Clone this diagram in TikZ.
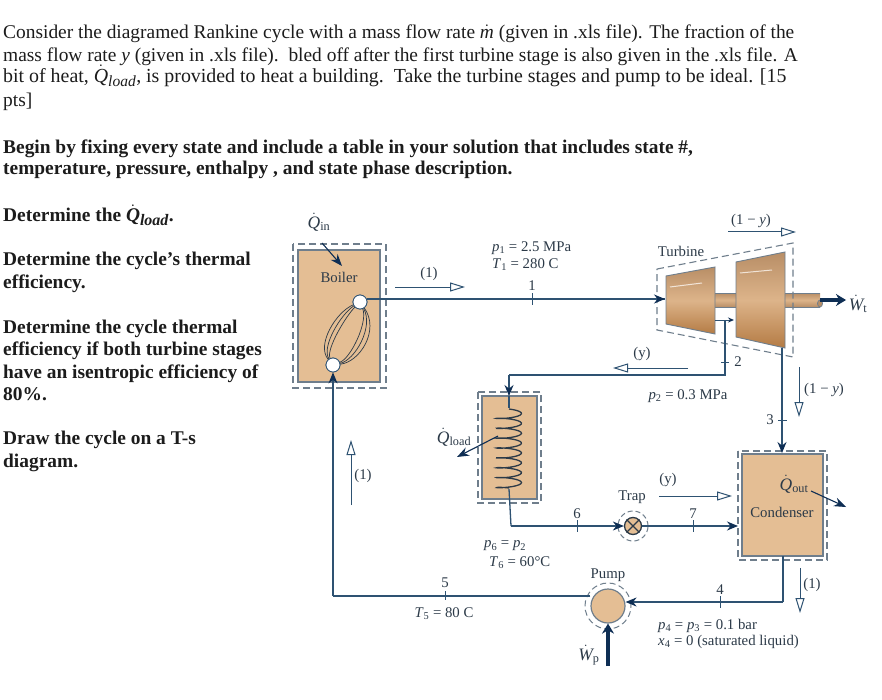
\documentclass[tikz,border=0pt]{standalone}
\usepackage{fontspec}
\setmainfont{Liberation Serif}
\usetikzlibrary{arrows.meta}
\definecolor{pipe}{HTML}{2E5272}
\definecolor{navy}{HTML}{0E2E54}
\definecolor{dashc}{HTML}{6F7E8C}
\definecolor{tanc}{HTML}{E4BE94}
\definecolor{lab}{HTML}{2C3A48}
\definecolor{body}{HTML}{1C1C1C}
\definecolor{B}{HTML}{B88E66}\definecolor{C}{HTML}{DDB48A}\definecolor{D}{HTML}{B47B44}
\newcommand{\Qd}{\dot{\mathit{Q}}}
\newcommand{\Wd}{\dot{\mathit{W}}}
\newcommand{\Qp}{$\dot{\mathit{Q}}_{\hbox{\itshape\fontsize{15.5}{16}\selectfont load}}$}
\newcommand{\Qb}{\dot{\hbox{\bfseries\itshape Q}}_{\hbox{\bfseries\itshape\fontsize{16}{16}\selectfont load}}}
\newcommand{\sbs}[1]{$_{\mathrm{#1}}$}
\tikzset{
 para/.style={anchor=base west,inner sep=0pt,text=body,font=\fontsize{19.42}{22}\selectfont},
 head/.style={anchor=base west,inner sep=0pt,text=body,font=\fontsize{19.4}{22}\selectfont\bfseries},
 lbl/.style={inner sep=0pt,text=lab,font=\fontsize{14.8}{16}\selectfont},
 lbll/.style={lbl,anchor=west},
 qlbl/.style={lbl,font=\fontsize{17.5}{18}\selectfont},
 pipeline/.style={draw=pipe,line width=1.3pt},
 flow/.style={pipeline,-{Stealth[length=11pt,width=9pt,color=navy]}},
 tick/.style={draw=pipe,line width=.7pt},
 box/.style={draw=dashc,line width=1.3pt,fill=tanc},
 dashbox/.style={draw=dashc,line width=1.1pt,dash pattern=on 7pt off 4pt},
 ind/.style={draw=pipe,line width=1pt,-{Triangle[open,fill=white,length=15pt,width=9pt]}},
 heat/.style={draw=navy,line width=1.1pt,-{Stealth[length=12pt,width=9pt]}},
 work/.style={draw=navy,line width=3.4pt,-{Stealth[length=10pt,width=12pt]}},
 stage/.style={draw=dashc,line width=.9pt,top color=B,bottom color=D,middle color=C},
}
\begin{document}
\begin{tikzpicture}[x=1pt,y=-1pt]
\useasboundingbox[fill=white] (0,0) rectangle (882,700);
% ---- text
\node[para] (t1) at (3,39) {Consider the diagramed Rankine cycle with a mass flow rate $\dot{\mathit{m}}$ (given in .xls file). The fraction of the};
\node[para] (t2) at (3,62) {mass flow rate \textit{y} (given in .xls file).\ \ bled off after the first turbine stage is also given in the .xls file. A};
\node[para,font=\fontsize{19.9}{22}\selectfont] (t3) at (3,83) {bit of heat, \Qp, is provided to heat a building.\ \ Take the turbine stages and pump to be ideal. [15};
\node[para] (t4) at (3,106.5) {pts]};
\node[head] (h1) at (3,153.5) {Begin by fixing every state and include a table in your solution that includes state \#,};
\node[head] (h2) at (3,175) {temperature, pressure, enthalpy , and state phase description.};
\node[head] (h3) at (3,222) {Determine the $\Qb$.};
\node[head] (h4) at (3,265.5) {Determine the cycle’s thermal};
\node[head] (h5) at (3,288.5) {efficiency.};
\node[head] (h6) at (3,333) {Determine the cycle thermal};
\node[head] (h7) at (3,355) {efficiency if both turbine stages};
\node[head] (h8) at (3,378) {have an isentropic efficiency of};
\node[head] (h9) at (3,400) {80\%.};
\node[head] (h10) at (3,444) {Draw the cycle on a T-s};
\node[head] (h11) at (3,467) {diagram.};
% ---- boiler
\draw[dashbox] (293,244) rectangle (386,388);
\draw[box] (298,250) rectangle (380,382);
% ---- heater
\draw[dashbox] (478,392) rectangle (541,503);
\draw[box] (482,396) rectangle (537,499);
% ---- condenser
\draw[dashbox] (738,451) rectangle (827,560);
\draw[box] (742,454) rectangle (823,556);
% ---- turbine
\shade[top color=B,bottom color=B,middle color=C] (715,293) rectangle (736,307);
\shade[top color=B,bottom color=B,middle color=C] (785,293) rectangle (820,307);
\draw[draw=dashc,line width=.8pt] (715,293) -- (736,293) (715,307) -- (736,307) (785,293) -- (820,293) (785,307) -- (820,307);
\draw[draw=dashc,line width=.8pt,fill=B] (820,303.5) ellipse (2.5 and 3.5);
\draw[stage] (666,276) -- (715,267) -- (715,334) -- (666,324) -- cycle;
\draw[stage] (736,262) -- (785,252) -- (785,348) -- (736,337) -- cycle;
\draw[white!85!tanc,line width=1pt,opacity=.8] (670,287) -- (702,283);
\draw[white!85!tanc,line width=1pt,opacity=.8] (740,273) -- (772,270);
\draw[dashbox] (657,269) -- (793,243) -- (793,357) -- (657,330) -- cycle;
% ---- named points
\node[circle,draw=pipe,line width=.8pt,fill=white,minimum size=14pt,inner sep=0pt] (drum) at (360,302) {};
\node[circle,draw=pipe,line width=.8pt,fill=white,minimum size=14pt,inner sep=0pt] (mud) at (333,365) {};
\coordinate (tin) at (665,299);
\coordinate (tmid) at (600,299);
\coordinate (bleedA) at (715,320);
\coordinate (bleedB) at (734,320);
\coordinate (bleedJ) at (725,320);
\coordinate (c1) at (725,375);
\coordinate (c2) at (509,375);
\coordinate (coilin) at (509,396);
\coordinate (coilout) at (509,489);
\coordinate (c3) at (511,526);
\coordinate (t2out) at (782,348);
\coordinate (condtop) at (782,453);
\coordinate (condbot) at (783,556);
\coordinate (c4) at (783,602);
\coordinate (c5) at (333,596);
% ---- boiler tubes
\begin{scope}[line width=.7pt]
\draw[draw=lab] (mud) .. controls (316,345) and (336,312) .. (drum);
\draw[draw=lab] (mud) .. controls (321,347) and (341,314) .. (drum);
\draw[draw=lab] (mud) .. controls (326,349) and (346,316) .. (drum);
\draw[draw=lab] (mud) .. controls (360,362) and (380,330) .. (drum);
\draw[draw=lab] (mud) .. controls (355,360) and (374,327) .. (drum);
\draw[draw=lab] (mud) .. controls (351,358) and (368,322) .. (drum);
\end{scope}
\node[circle,draw=pipe,line width=.8pt,fill=white,minimum size=14pt,inner sep=0pt] (drumc) at (drum) {};
\node[circle,draw=pipe,line width=.8pt,fill=white,minimum size=14pt,inner sep=0pt] (mudc) at (mud) {};
% ---- trap, pump
\node[circle,draw=dashc,line width=1pt,dash pattern=on 5pt off 3pt,minimum size=30pt,inner sep=0pt] (trapd) at (633,526) {};
\node[circle,draw=lab,line width=1.3pt,fill=tanc,minimum size=17pt,inner sep=0pt] (trap) at (633,526) {};
\draw[draw=lab,line width=1.3pt] (trap.north west) -- (trap.south east) (trap.north east) -- (trap.south west);
\node[circle,draw=dashc,line width=1pt,dash pattern=on 6pt off 3.5pt,minimum size=46pt,inner sep=0pt] (pumpd) at (608,606) {};
\node[circle,draw=dashc,line width=1.2pt,fill=tanc,minimum size=34pt,inner sep=0pt] (pump) at (608,606) {};
% ---- pipes
\draw[pipeline] (drum.east |- tin) -- (tin);
\draw[flow] (tmid) -- (tin);
\draw[flow,line width=1pt,-{Stealth[length=6pt,width=5pt,color=navy]}] (bleedA) -- (bleedB);
\draw[pipeline] (bleedJ) -- (c1) -- (c2);
\draw[flow] (c2) -- (coilin);
\draw[pipeline] (coilin) -- (509,408);
\draw[pipeline] (coilout) -- (c3);
\draw[flow] (c3) -- (trap.west |- c3);
\draw[flow] (trap.east |- c3) -- (738,526);
\draw[flow] (t2out) -- (condtop);
\draw[pipeline] (condbot) -- (c4);
\draw[flow] (c4) -- (pump.east |- c4);
\draw[pipeline] (pump.west |- c5) -- (c5);
\draw[flow] (c5) -- (mud.south);
% ---- coil
\draw[draw=lab,line width=1.3pt] plot[smooth,samples=150,domain=0:2880,variable=\a] ({509+12.5*sin(\a)},{409+(\a/2880)*79-2*cos(\a)+2});
% ---- ticks
\draw[tick] (532,293) -- (532,305);
\draw[tick] (721,362) -- (729,362);
\draw[tick] (778,420) -- (787,420);
\draw[tick] (577,520) -- (577,532);
\draw[tick] (693,520) -- (693,532);
\draw[tick] (720,596) -- (720,608);
\draw[tick] (445,591) -- (445,600);
% ---- indicator arrows
\coordinate (a1s) at (395,287); \coordinate (a1e) at (465,287);
\coordinate (a2s) at (728,232); \coordinate (a2e) at (796,232);
\coordinate (a3s) at (688,368); \coordinate (a3e) at (613,368);
\coordinate (a4s) at (799,367); \coordinate (a4e) at (799,417);
\coordinate (a5s) at (659,496); \coordinate (a5e) at (732,496);
\coordinate (a6s) at (800,568); \coordinate (a6e) at (800,613);
\coordinate (a7s) at (351,505); \coordinate (a7e) at (351,440);
\foreach \n in {1,...,7} \draw[ind] (a\n s) -- (a\n e);
% ---- heat and work
\coordinate (qi1) at (322,243); \coordinate (qi2) at (342,266);
\coordinate (ql1) at (498,436); \coordinate (ql2) at (457,457);
\coordinate (qo1) at (811,491); \coordinate (qo2) at (846,507);
\coordinate (wt1) at (820,300); \coordinate (wt2) at (846,300);
\coordinate (wp1) at (608,666);
\draw[heat] (qi1) -- (qi2);
\draw[heat] (ql1) -- (ql2);
\draw[heat] (qo1) -- (qo2);
\draw[work] (wt1) -- (wt2);
\draw[work] (wp1) -- (pump.south);
% ---- labels
\node[qlbl] (lqin) at (319,222) {$\Qd_{\mathrm{in}}$};
\node[lbl] (lboil) at (339,277) {Boiler};
\node[lbl] (l1a) at (429,274) {(1)};
\node[lbll] (lp1) at (492,248.5) {\textit{p}\sbs{1} = 2.5 MPa};
\node[lbll] (lT1) at (492,264.5) {\textit{T}\sbs{1} = 280 C};
\node[lbl] (ls1) at (532,286) {1};
\node[lbl] (lturb) at (681,251) {Turbine};
\node[lbl] (l1y) at (751,220.5) {(1 − \textit{y})};
\node[qlbl] (lwt) at (858,304) {$\Wd_{\mathrm{t}}$};
\node[lbl] (ly1) at (642,353.5) {(y)};
\node[lbl] (ls2) at (738,362) {2};
\node[lbl] (lp2) at (688,396) {\textit{p}\sbs{2} = 0.3 MPa};
\node[lbl] (l1y2) at (824,390) {(1 − \textit{y})};
\node[lbl] (ls3) at (770,420) {3};
\node[qlbl] (lql) at (454,437) {$\Qd_{\mathrm{load}}$};
\node[qlbl] (lqo) at (794,484) {$\Qd_{\mathrm{out}}$};
\node[lbl] (lcond) at (782,512) {Condenser};
\node[lbl] (l1c) at (363,476) {(1)};
\node[lbl] (ly2) at (668,479.5) {(y)};
\node[lbl] (ltrap) at (632,497.5) {Trap};
\node[lbl] (ls6) at (577,514) {6};
\node[lbl] (ls7) at (693,514) {7};
\node[lbll] (lp6) at (484,546) {\textit{p}\sbs{6} = \textit{p}\sbs{2}};
\node[lbll] (lT6) at (489,563) {\textit{T}\sbs{6} = 60°C};
\node[lbl] (lpump) at (608,575.5) {Pump};
\node[lbl] (ls5) at (445,583) {5};
\node[lbl] (lT5) at (444,613.5) {\textit{T}\sbs{5} = 80 C};
\node[lbl] (ls4) at (720,590) {4};
\node[lbl] (l1d) at (812,585) {(1)};
\node[lbll] (lp4) at (658,626) {\textit{p}\sbs{4} = \textit{p}\sbs{3} = 0.1 bar};
\node[lbll] (lx4) at (658,642) {\textit{x}\sbs{4} = 0 (saturated liquid)};
\node[qlbl] (lwp) at (589,655) {$\Wd_{\mathrm{p}}$};
\end{tikzpicture}
\end{document}
